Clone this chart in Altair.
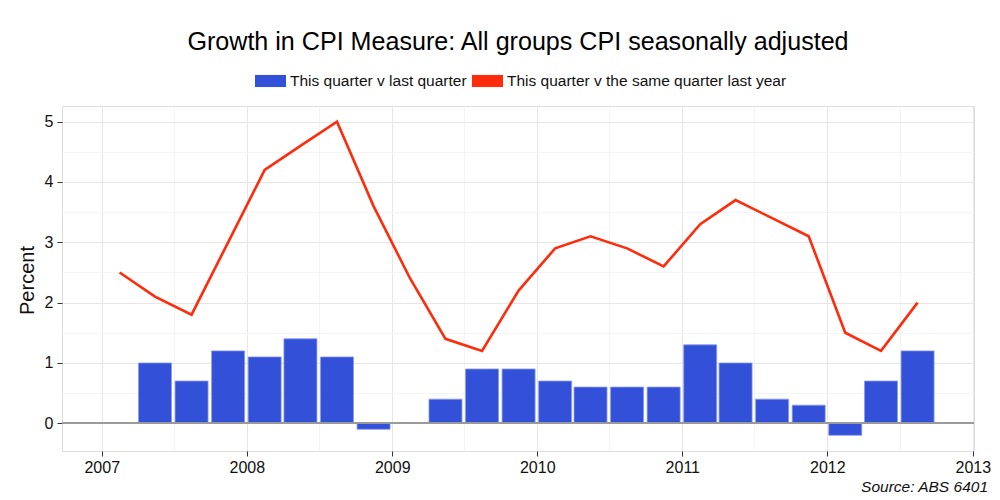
import altair as alt
import pandas as pd

# Quarter mid-points (middle month of each quarter)
QUARTERS = [
    "2007-02-15", "2007-05-15", "2007-08-15", "2007-11-15",
    "2008-02-15", "2008-05-15", "2008-08-15", "2008-11-15",
    "2009-02-15", "2009-05-15", "2009-08-15", "2009-11-15",
    "2010-02-15", "2010-05-15", "2010-08-15", "2010-11-15",
    "2011-02-15", "2011-05-15", "2011-08-15", "2011-11-15",
    "2012-02-15", "2012-05-15", "2012-08-15",
]
# This quarter v last quarter (%)
QUARTERLY = [0.0, 1.0, 0.7, 1.2, 1.1, 1.4, 1.1, -0.1, 0.0, 0.4, 0.9, 0.9,
             0.7, 0.6, 0.6, 0.6, 1.3, 1.0, 0.4, 0.3, -0.2, 0.7, 1.2]
# This quarter v the same quarter last year (%)
ANNUAL = [2.5, 2.1, 1.8, 3.0, 4.2, 4.6, 5.0, 3.6, 2.4, 1.4, 1.2, 2.2,
          2.9, 3.1, 2.9, 2.6, 3.3, 3.7, 3.4, 3.1, 1.5, 1.2, 2.0]
SERIES = ["This quarter v last quarter", "This quarter v the same quarter last year"]
COLORS = ["#3350D8", "#FF2B0A"]
YEARS = [2007, 2008, 2009, 2010, 2011, 2012, 2013]
Y_TICKS = [0, 0.5, 1, 1.5, 2, 2.5, 3, 3.5, 4, 4.5, 5]
CAPTION = ["Source: ABS 6401"]

df = pd.DataFrame({"date": QUARTERS, "quarterly": QUARTERLY, "annual": ANNUAL})

x_values = []
for yr in YEARS:
    x_values.append(alt.DateTime(year=yr, month=1, date=1, utc=True))
    if yr < 2013:
        x_values.append(alt.DateTime(year=yr, month=7, date=1, utc=True))

FONT = "Liberation Sans"

x_axis = alt.Axis(
    values=x_values,
    labelExpr="utcmonth(datum.value) == 0 ? utcFormat(datum.value, '%Y') : ''",
    gridColor={"condition": {"test": "utcmonth(datum.value) == 0", "value": "#e6e6e6"}, "value": "#f4f4f4"},
    tickOpacity={"condition": {"test": "utcmonth(datum.value) == 0", "value": 1}, "value": 0},
    tickColor="#333333", tickSize=5, domain=False,
    labelFontSize=16, labelColor="#111111", labelPadding=3, labelFont=FONT,
    title=None,
)
y_axis = alt.Axis(
    values=Y_TICKS,
    labelExpr="datum.value % 1 == 0 ? format(datum.value, 'd') : ''",
    gridColor={"condition": {"test": "datum.value % 1 == 0", "value": "#e6e6e6"}, "value": "#f4f4f4"},
    tickOpacity={"condition": {"test": "datum.value % 1 == 0", "value": 1}, "value": 0},
    tickColor="#333333", tickSize=5, domain=False,
    labelFontSize=16, labelColor="#111111", labelPadding=4, labelFont=FONT,
    title="Percent", titleFontSize=20, titleFontWeight="normal", titleColor="#111111",
    titleFont=FONT, titleAngle=270, titleAlign="center", titleBaseline="alphabetic",
    titleX=-29, titleY=174,
)

x_scale = alt.Scale(type="utc", nice=False, padding=0,
                    domain=[alt.DateTime(year=2006, month=9, date=23, utc=True),
                            alt.DateTime(year=2013, month=1, date=4, utc=True)])
y_scale = alt.Scale(domain=[-0.46, 5.26], nice=False, zero=False, padding=0)

base = alt.Chart(df)

bars = base.transform_calculate(series=f"'{SERIES[0]}'").mark_bar(
    size=33, stroke="#8a9bee", strokeWidth=0.8
).encode(
    x=alt.X("date:T", scale=x_scale, axis=x_axis),
    y=alt.Y("quarterly:Q", scale=y_scale, axis=y_axis),
    color=alt.Color(
        "series:N",
        scale=alt.Scale(domain=SERIES, range=COLORS),
        legend=alt.Legend(
            orient="none", legendX=193, legendY=-40.5, direction="horizontal",
            title=None, symbolType="M-1,-0.39H1V0.39H-1Z", symbolSize=961,
            symbolStrokeWidth=0, symbolOpacity=1,
            labelFontSize=15.5, labelFont=FONT, labelColor="#111111",
            labelOffset=4, columnPadding=5, padding=0, labelLimit=500,
        ),
    ),
)

zero = base.mark_rule(color="#9a9a9a", strokeWidth=1).encode(
    y=alt.datum(0, scale=y_scale, axis=y_axis)
)

line = base.mark_line(color=COLORS[1], strokeWidth=2.6).encode(
    x=alt.X("date:T", scale=x_scale, axis=x_axis),
    y=alt.Y("annual:Q", scale=y_scale, axis=y_axis),
)

caption = alt.Chart(pd.DataFrame({"caption": CAPTION})).mark_text(
    font=FONT, fontSize=15.5, fontStyle="italic", color="#111111",
    align="right", baseline="alphabetic",
).encode(text="caption:N", x=alt.value(926), y=alt.value(386))

chart = alt.layer(bars, zero, line, caption).properties(
    width=912, height=345,
    autosize=alt.AutoSizeParams(type="none"),
    padding={"left": 54, "top": 98, "right": 18, "bottom": 43},
    title=alt.TitleParams(
        "Growth in CPI Measure: All groups CPI seasonally adjusted",
        fontSize=25.1, font=FONT, fontWeight="normal", color="#000000",
        anchor="middle", baseline="alphabetic", offset=24, dy=34,
    ),
).configure_view(stroke="#999999", strokeWidth=1).configure(background="white")

chart.save("out.html", embed_options={"renderer": "svg", "actions": False})
